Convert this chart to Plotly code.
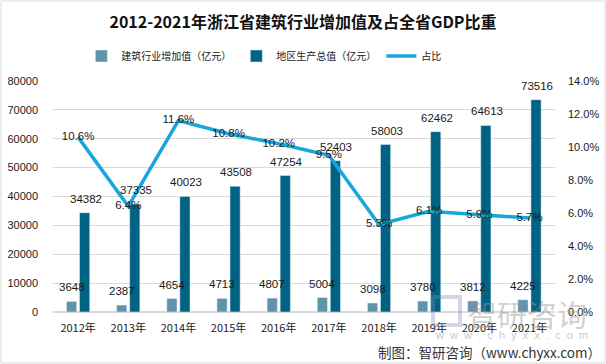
import plotly.graph_objects as go

years = ["2012年", "2013年", "2014年", "2015年", "2016年", "2017年", "2018年", "2019年", "2020年", "2021年"]
construction = [3648, 2387, 4654, 4713, 4807, 5004, 3098, 3780, 3812, 4225]
gdp = [34382, 37335, 40023, 43508, 47254, 52403, 58003, 62462, 64613, 73516]
share = [10.6, 6.4, 11.6, 10.8, 10.2, 9.5, 5.3, 6.1, 5.9, 5.7]

FONT = "Liberation Sans, Arial, Noto Sans CJK SC, sans-serif"
CJK = "Noto Sans CJK SC, Liberation Sans, sans-serif"
LBL = dict(size=11.5, color="#1a1a1a", family=FONT)

fig = go.Figure()
fig.add_trace(go.Bar(x=years, y=construction, name="建筑行业增加值（亿元）",
                     marker_color="#5f93aa"))
fig.add_trace(go.Bar(x=years, y=gdp, name="地区生产总值（亿元）",
                     marker_color="#006384"))
fig.add_trace(go.Scatter(
    x=years, y=[s / 100 for s in share], name="占比", yaxis="y2",
    mode="lines+text", line=dict(color="#17a7dc", width=3.5),
    text=[f"{s:.1f}%" for s in share], textposition="middle center",
    textfont=LBL, cliponaxis=False,
))

# bar value labels, placed on the axes' data coordinates
for yr, v in zip(years, construction):
    fig.add_annotation(x=yr, y=v, xref="x", yref="y", text=str(v), showarrow=False,
                       xshift=-6.5, yshift=14, yanchor="middle", font=LBL)
for yr, v in zip(years, gdp):
    fig.add_annotation(x=yr, y=v, xref="x", yref="y", text=str(v), showarrow=False,
                       xshift=7.5, yshift=14, yanchor="middle", font=LBL)

W, H = 606, 364
ml, mr, mt, mb = 53, 51, 81, 52
pw, ph = W - ml - mr, H - mt - mb

fig.update_layout(
    width=W, height=H,
    margin=dict(l=ml, r=mr, t=mt, b=mb, pad=0, autoexpand=False),
    paper_bgcolor="white", plot_bgcolor="white",
    font=dict(family=CJK, size=11, color="#1a1a1a"),
    title=dict(text="<b>2012-2021年浙江省建筑行业增加值及占全省GDP比重</b>",
               x=0.5, xanchor="center", y=1 - 22 / H, yanchor="middle",
               font=dict(size=16, family=CJK, color="#111111")),
    barmode="group", bargap=0.48, bargroupgap=0.22,
    showlegend=True,
    legend=dict(orientation="h", x=0.42, xanchor="center", y=1 + 25 / ph, yanchor="middle",
                font=dict(size=10, family=CJK), itemwidth=30, bgcolor="rgba(0,0,0,0)"),
    xaxis=dict(showgrid=False, showline=False, ticks="", tickfont=dict(size=11, family=CJK),
               ticklabelstandoff=8),
    yaxis=dict(range=[0, 80000], dtick=10000, tickformat="d", showgrid=True,
               gridcolor="#d9d9d9", gridwidth=1,
               zeroline=True, zerolinecolor="#d9d9d9", showline=False, ticks="",
               tickfont=dict(size=11, family=FONT), ticklabelstandoff=14),
    yaxis2=dict(range=[0, 0.14], dtick=0.02, tickformat=".1%", overlaying="y", side="right",
                showgrid=False, zeroline=False, showline=False, ticks="",
                tickfont=dict(size=11, family=FONT), ticklabelstandoff=12),
)

# watermark and source
fig.add_annotation(xref="paper", yref="paper", x=(527 - ml) / pw, y=(312 - 313) / ph,
                   text="智研咨询", showarrow=False, xanchor="center", yanchor="middle",
                   font=dict(size=30, color="rgba(150,150,150,0.45)", family=CJK))
fig.add_annotation(xref="paper", yref="paper", x=(511 - ml) / pw, y=(312 - 335) / ph,
                   text="w  w  w  .  c  h  y  x  x  .  c  o  m", showarrow=False,
                   xanchor="center", yanchor="middle",
                   font=dict(size=11, color="rgba(150,150,150,0.55)", family=FONT))
fig.add_shape(type="rect", xref="paper", yref="paper",
              x0=(433 - ml) / pw, x1=(460 - ml) / pw, y0=(312 - 325) / ph, y1=(312 - 297) / ph,
              line=dict(color="rgba(120,140,190,0.35)", width=4), fillcolor="rgba(0,0,0,0)")
fig.add_annotation(xref="paper", yref="paper", x=(603 - ml) / pw, y=(312 - 352) / ph,
                   text="制图：智研咨询（www.chyxx.com）", showarrow=False,
                   xanchor="right", yanchor="middle",
                   font=dict(size=13.5, color="#333333", family=CJK))
# outer frame
fig.add_shape(type="rect", xref="paper", yref="paper",
              x0=(1 - ml) / pw, x1=(W - 1 - ml) / pw, y0=(312 - (H - 1)) / ph, y1=(312 - 1) / ph,
              line=dict(color="#d9d9d9", width=1), fillcolor="rgba(0,0,0,0)", layer="below")

fig.write_html("out.html", config={"displayModeBar": False},
               post_script="document.body.style.margin='0';")
